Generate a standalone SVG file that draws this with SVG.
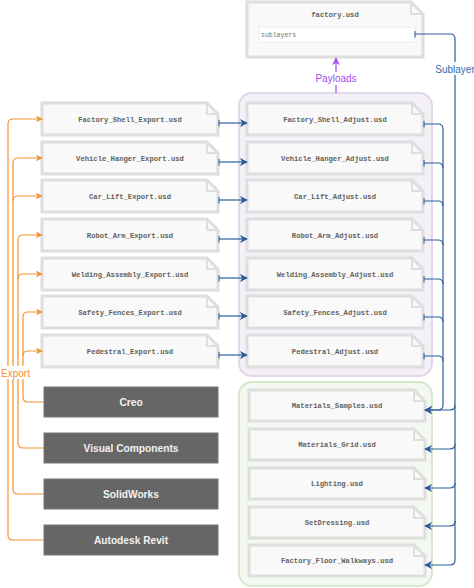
<svg xmlns="http://www.w3.org/2000/svg" width="474" height="588" viewBox="0 0 474 588">
<style>
.note{fill:#f9f9f9;stroke:#dedede;stroke-width:3}
.fold{fill:none;stroke:#dedede;stroke-width:2}
.ft{font-family:"Liberation Mono",monospace;font-size:7.2px;font-weight:bold;fill:#616161;text-anchor:middle}
.dark{fill:#666;stroke:#777;stroke-width:1}
.dt{font-family:"Liberation Sans",Arial,sans-serif;font-size:10.2px;font-weight:bold;fill:#f2f2f2;text-anchor:middle}
.or{fill:none;stroke:#f39130;stroke-width:1.2}
.bl{fill:none;stroke:#2c5d99;stroke-width:1.2}
.lbl{font-family:"Liberation Sans",Arial,sans-serif;font-size:10px;text-anchor:middle}
</style>
<defs>
<marker id="ao" viewBox="0 0 10 10" refX="9" refY="5" markerWidth="7" markerHeight="7" markerUnits="userSpaceOnUse" orient="auto"><path d="M0,0 L10,5 L0,10 L3,5 z" fill="#f39130"/></marker>
<marker id="ab" viewBox="0 0 10 10" refX="9" refY="5" markerWidth="8" markerHeight="8" markerUnits="userSpaceOnUse" orient="auto"><path d="M0,0 L10,5 L0,10 L3,5 z" fill="#2c5d99"/></marker>
<marker id="ap" viewBox="0 0 10 10" refX="9" refY="5" markerWidth="8" markerHeight="8" markerUnits="userSpaceOnUse" orient="auto"><path d="M0,0 L10,5 L0,10 L3,5 z" fill="#a04ef5"/></marker>
<marker id="tk" viewBox="0 0 4 10" refX="1" refY="5" markerWidth="3" markerHeight="7" markerUnits="userSpaceOnUse" orient="auto"><path d="M1,0 V10" stroke="#2c5d99" stroke-width="1.5"/></marker>
</defs>

<!-- groups -->
<g id="payload-group"><rect x="239" y="93" width="193" height="283" rx="13" fill="#f4f0f7" stroke="#e2d6ea" stroke-width="2"/></g>
<g id="sublayer-group"><rect x="239" y="382" width="193" height="204" rx="13" fill="#f3f8f0" stroke="#d6e8cd" stroke-width="2"/></g>

<!-- factory.usd -->
<g id="factory">
<path class="note" d="M247,2 H411 L423,14 V57 H247 Z"/>
<path class="fold" d="M411,2 V14 H423"/>
<text class="ft" x="335" y="16.5">factory.usd</text>
<rect x="259" y="27" width="156" height="15" fill="#fff" stroke="#ececec" stroke-width="1"/>
<text x="261" y="37" font-family="'Liberation Mono',monospace" font-size="6.5px" fill="#777">sublayers</text>
</g>

<!-- left export files -->
<g id="n-fs-exp"><path class="note" d="M42,103 H207 L218,114 V135 H42 Z"/><path class="fold" d="M207,103 V114 H218"/><text class="ft" x="130" y="121.5">Factory_Shell_Export.usd</text></g>
<g id="n-vh-exp"><path class="note" d="M42,142 H207 L218,153 V174 H42 Z"/><path class="fold" d="M207,142 V153 H218"/><text class="ft" x="130" y="160.5">Vehicle_Hanger_Export.usd</text></g>
<g id="n-cl-exp"><path class="note" d="M42,180 H207 L218,191 V212 H42 Z"/><path class="fold" d="M207,180 V191 H218"/><text class="ft" x="130" y="198.5">Car_Lift_Export.usd</text></g>
<g id="n-ra-exp"><path class="note" d="M42,219 H207 L218,230 V251 H42 Z"/><path class="fold" d="M207,219 V230 H218"/><text class="ft" x="130" y="237.5">Robot_Arm_Export.usd</text></g>
<g id="n-wa-exp"><path class="note" d="M42,258 H207 L218,269 V290 H42 Z"/><path class="fold" d="M207,258 V269 H218"/><text class="ft" x="130" y="276.5">Welding_Assembly_Export.usd</text></g>
<g id="n-sf-exp"><path class="note" d="M42,296 H207 L218,307 V328 H42 Z"/><path class="fold" d="M207,296 V307 H218"/><text class="ft" x="130" y="314.5">Safety_Fences_Export.usd</text></g>
<g id="n-pd-exp"><path class="note" d="M42,335 H207 L218,346 V367 H42 Z"/><path class="fold" d="M207,335 V346 H218"/><text class="ft" x="130" y="353.5">Pedestral_Export.usd</text></g>

<!-- adjust files -->
<g id="n-fs-adj"><path class="note" d="M247,103 H412 L423,114 V135 H247 Z"/><path class="fold" d="M412,103 V114 H423"/><text class="ft" x="335" y="121.5">Factory_Shell_Adjust.usd</text></g>
<g id="n-vh-adj"><path class="note" d="M247,142 H412 L423,153 V174 H247 Z"/><path class="fold" d="M412,142 V153 H423"/><text class="ft" x="335" y="160.5">Vehicle_Hanger_Adjust.usd</text></g>
<g id="n-cl-adj"><path class="note" d="M247,180 H412 L423,191 V212 H247 Z"/><path class="fold" d="M412,180 V191 H423"/><text class="ft" x="335" y="198.5">Car_Lift_Adjust.usd</text></g>
<g id="n-ra-adj"><path class="note" d="M247,219 H412 L423,230 V251 H247 Z"/><path class="fold" d="M412,219 V230 H423"/><text class="ft" x="335" y="237.5">Robot_Arm_Adjust.usd</text></g>
<g id="n-wa-adj"><path class="note" d="M247,258 H412 L423,269 V290 H247 Z"/><path class="fold" d="M412,258 V269 H423"/><text class="ft" x="335" y="276.5">Welding_Assembly_Adjust.usd</text></g>
<g id="n-sf-adj"><path class="note" d="M247,296 H412 L423,307 V328 H247 Z"/><path class="fold" d="M412,296 V307 H423"/><text class="ft" x="335" y="314.5">Safety_Fences_Adjust.usd</text></g>
<g id="n-pd-adj"><path class="note" d="M247,335 H412 L423,346 V367 H247 Z"/><path class="fold" d="M412,335 V346 H423"/><text class="ft" x="335" y="353.5">Pedestral_Adjust.usd</text></g>

<!-- sublayer files -->
<g id="n-ms"><path class="note" d="M249,390 H414 L425,401 V421 H249 Z"/><path class="fold" d="M414,390 V401 H425"/><text class="ft" x="337" y="408">Materials_Samples.usd</text></g>
<g id="n-mg"><path class="note" d="M249,429 H414 L425,440 V460 H249 Z"/><path class="fold" d="M414,429 V440 H425"/><text class="ft" x="337" y="447">Materials_Grid.usd</text></g>
<g id="n-lt"><path class="note" d="M249,468 H414 L425,479 V499 H249 Z"/><path class="fold" d="M414,468 V479 H425"/><text class="ft" x="337" y="486">Lighting.usd</text></g>
<g id="n-sd"><path class="note" d="M249,507 H414 L425,518 V538 H249 Z"/><path class="fold" d="M414,507 V518 H425"/><text class="ft" x="337" y="525">SetDressing.usd</text></g>
<g id="n-fw"><path class="note" d="M249,545 H414 L425,556 V576 H249 Z"/><path class="fold" d="M414,545 V556 H425"/><text class="ft" x="337" y="563">Factory_Floor_Walkways.usd</text></g>

<!-- source apps -->
<g id="n-creo"><rect class="dark" x="44" y="387" width="174" height="30"/><text class="dt" x="131" y="405.5">Creo</text></g>
<g id="n-vc"><rect class="dark" x="44" y="433" width="174" height="30"/><text class="dt" x="131" y="451.5">Visual Components</text></g>
<g id="n-sw"><rect class="dark" x="44" y="479" width="174" height="30"/><text class="dt" x="131" y="497.5">SolidWorks</text></g>
<g id="n-revit"><rect class="dark" x="44" y="525" width="174" height="30"/><text class="dt" x="131" y="543.5">Autodesk Revit</text></g>

<g id="connectors">
<!-- export (orange) -->
<path class="or" marker-end="url(#ao)" d="M44,540 H13 Q8,540 8,535 V124 Q8,119 13,119 H42"/>
<path class="or" marker-end="url(#ao)" d="M44,494 H18 Q13,494 13,489 V163 Q13,158 18,158 H42"/>
<path class="or" marker-end="url(#ao)" d="M13,201 Q13,196 18,196 H42"/>
<path class="or" marker-end="url(#ao)" d="M44,448 H23 Q18,448 18,443 V240 Q18,235 23,235 H42"/>
<path class="or" marker-end="url(#ao)" d="M18,279 Q18,274 23,274 H42"/>
<path class="or" marker-end="url(#ao)" d="M44,402 H28 Q23,402 23,397 V317 Q23,312 28,312 H42"/>
<path class="or" marker-end="url(#ao)" d="M23,356 Q23,351 28,351 H42"/>
<rect x="0" y="366" width="31" height="13" fill="#fff"/>
<text class="lbl" x="15.5" y="376.5" fill="#f39130">Export</text>

<!-- export -> adjust -->
<path class="bl" marker-start="url(#tk)" marker-end="url(#ab)" d="M219,123 H247"/>
<path class="bl" marker-start="url(#tk)" marker-end="url(#ab)" d="M219,162 H247"/>
<path class="bl" marker-start="url(#tk)" marker-end="url(#ab)" d="M219,200 H247"/>
<path class="bl" marker-start="url(#tk)" marker-end="url(#ab)" d="M219,239 H247"/>
<path class="bl" marker-start="url(#tk)" marker-end="url(#ab)" d="M219,278 H247"/>
<path class="bl" marker-start="url(#tk)" marker-end="url(#ab)" d="M219,316 H247"/>
<path class="bl" marker-start="url(#tk)" marker-end="url(#ab)" d="M219,355 H247"/>

<!-- adjust -> materials samples -->
<path class="bl" marker-start="url(#tk)" d="M424,124 H438 Q443,124 443,129 V405"/>
<path class="bl" marker-start="url(#tk)" d="M424,163 H438 Q443,163 443,168"/>
<path class="bl" marker-start="url(#tk)" d="M424,201 H438 Q443,201 443,206"/>
<path class="bl" marker-start="url(#tk)" d="M424,240 H438 Q443,240 443,245"/>
<path class="bl" marker-start="url(#tk)" d="M424,279 H438 Q443,279 443,284"/>
<path class="bl" marker-start="url(#tk)" d="M424,317 H438 Q443,317 443,322"/>
<path class="bl" marker-start="url(#tk)" d="M424,356 H438 Q443,356 443,361"/>
<path class="bl" marker-end="url(#ab)" d="M443,405 Q443,410 438,410 H425"/>

<!-- sublayer -->
<path class="bl" marker-start="url(#tk)" marker-end="url(#ab)" d="M415,34 H450 Q455,34 455,39 V560 Q455,565 450,565 H425"/>
<path class="bl" marker-end="url(#ab)" d="M455,405 Q455,410 450,410 H425"/>
<path class="bl" marker-end="url(#ab)" d="M455,444 Q455,449 450,449 H425"/>
<path class="bl" marker-end="url(#ab)" d="M455,483 Q455,488 450,488 H425"/>
<path class="bl" marker-end="url(#ab)" d="M455,521 Q455,526 450,526 H425"/>
<rect x="434" y="62" width="40" height="13" fill="#fff"/>
<text class="lbl" x="455" y="72.5" fill="#2f6ab0">Sublayer</text>

<!-- payloads -->
<path fill="none" stroke="#a04ef5" stroke-width="1.2" marker-end="url(#ap)" d="M336,93 V58"/>
<rect x="314" y="72" width="44" height="13" fill="#fff"/>
<text class="lbl" x="336" y="82" fill="#a04ef5">Payloads</text>
</g>
</svg>
